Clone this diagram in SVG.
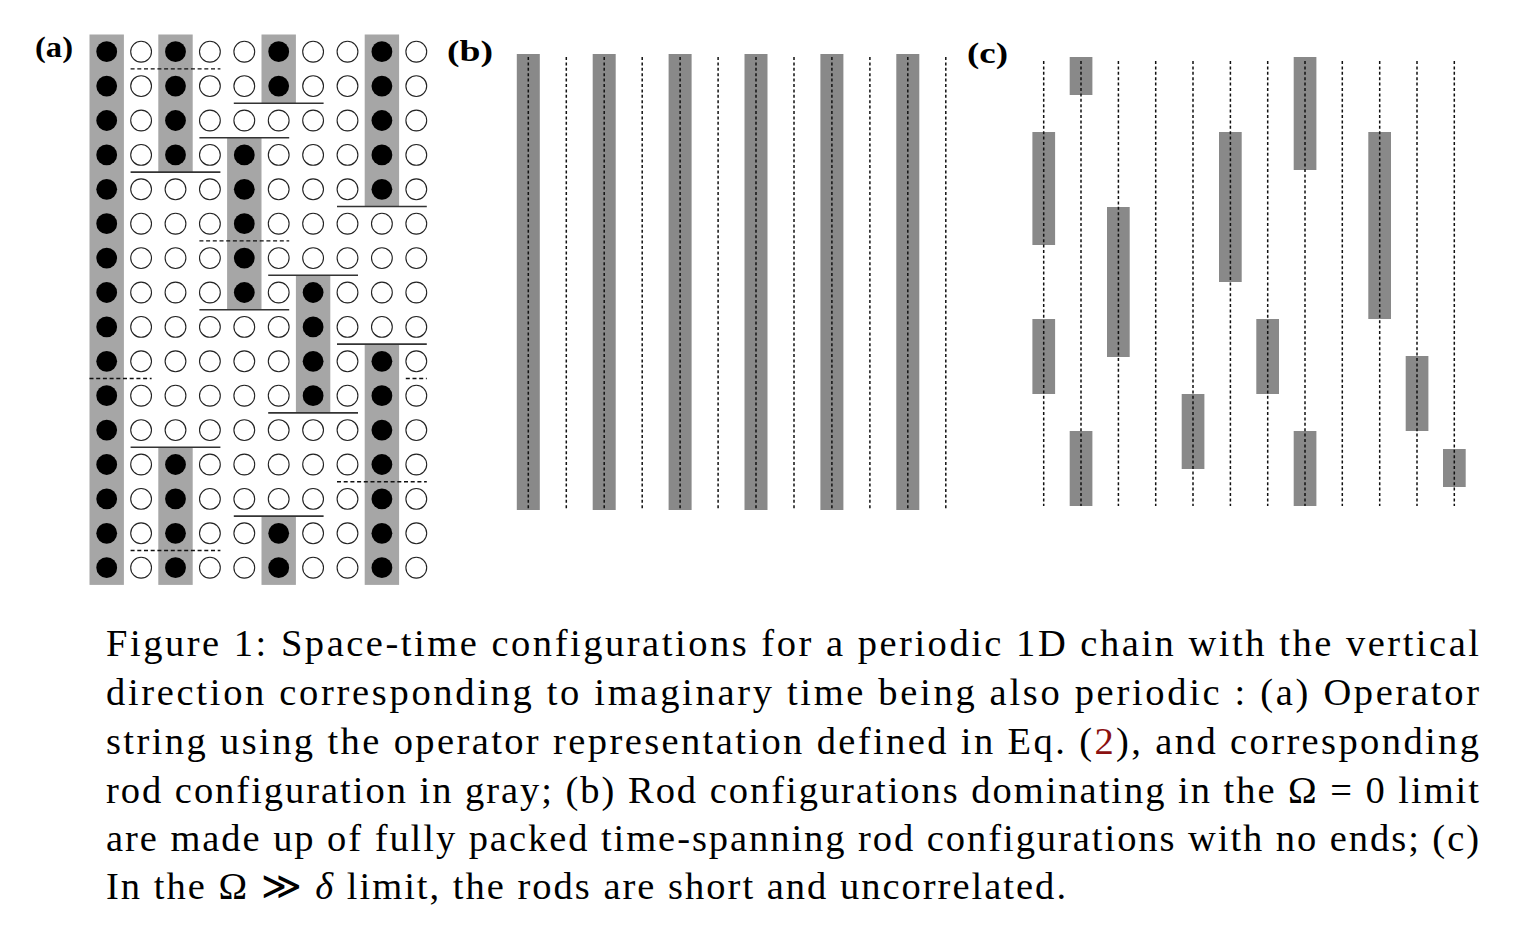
<svg xmlns="http://www.w3.org/2000/svg" width="1516" height="936" viewBox="0 0 1516 936">
<style>
.lbl{font-family:"Liberation Serif","DejaVu Serif",serif;font-weight:bold;font-size:29px;fill:#000}
.cap{font-family:"Liberation Serif","DejaVu Serif",serif;font-size:38.5px;fill:#000}
.rodA{fill:#a6a6a6}
.rodB{fill:#898989}
.o{fill:#fff;stroke:#222;stroke-width:1.1}
.f{fill:#000}
.op{stroke:#333;stroke-width:1.6;fill:none}
.opd{stroke:#111;stroke-width:1.4;fill:none;stroke-dasharray:4 2.7}
.dl{stroke:#111;stroke-width:1.5;fill:none;stroke-dasharray:3 2.4}
</style>
<rect width="1516" height="936" fill="#fff"/>

<!-- Panel (a) -->
<g id="panel-a">
<text class="lbl" x="35" y="57" textLength="38" lengthAdjust="spacingAndGlyphs">(a)</text>
<g id="rods-a">
<rect class="rodA" x="89.5" y="34.5" width="34.4" height="550.4"/>
<rect class="rodA" x="158.3" y="34.5" width="34.4" height="137.6"/>
<rect class="rodA" x="158.3" y="447.3" width="34.4" height="137.6"/>
<rect class="rodA" x="261.5" y="34.5" width="34.4" height="68.8"/>
<rect class="rodA" x="261.5" y="516.1" width="34.4" height="68.8"/>
<rect class="rodA" x="364.7" y="34.5" width="34.4" height="172"/>
<rect class="rodA" x="364.7" y="344.1" width="34.4" height="240.8"/>
<rect class="rodA" x="227.1" y="137.7" width="34.4" height="171.8"/>
<rect class="rodA" x="295.9" y="275.3" width="34.4" height="137.6"/>
</g>
<g id="sites">
<g transform="translate(0,51.7)"><circle class="f" cx="106.7" r="10.4"/><circle class="o" cx="141.1" r="10.4"/><circle class="f" cx="175.5" r="10.4"/><circle class="o" cx="209.9" r="10.4"/><circle class="o" cx="244.3" r="10.4"/><circle class="f" cx="278.7" r="10.4"/><circle class="o" cx="313.1" r="10.4"/><circle class="o" cx="347.5" r="10.4"/><circle class="f" cx="381.9" r="10.4"/><circle class="o" cx="416.3" r="10.4"/></g>
<g transform="translate(0,86.1)"><circle class="f" cx="106.7" r="10.4"/><circle class="o" cx="141.1" r="10.4"/><circle class="f" cx="175.5" r="10.4"/><circle class="o" cx="209.9" r="10.4"/><circle class="o" cx="244.3" r="10.4"/><circle class="f" cx="278.7" r="10.4"/><circle class="o" cx="313.1" r="10.4"/><circle class="o" cx="347.5" r="10.4"/><circle class="f" cx="381.9" r="10.4"/><circle class="o" cx="416.3" r="10.4"/></g>
<g transform="translate(0,120.5)"><circle class="f" cx="106.7" r="10.4"/><circle class="o" cx="141.1" r="10.4"/><circle class="f" cx="175.5" r="10.4"/><circle class="o" cx="209.9" r="10.4"/><circle class="o" cx="244.3" r="10.4"/><circle class="o" cx="278.7" r="10.4"/><circle class="o" cx="313.1" r="10.4"/><circle class="o" cx="347.5" r="10.4"/><circle class="f" cx="381.9" r="10.4"/><circle class="o" cx="416.3" r="10.4"/></g>
<g transform="translate(0,154.9)"><circle class="f" cx="106.7" r="10.4"/><circle class="o" cx="141.1" r="10.4"/><circle class="f" cx="175.5" r="10.4"/><circle class="o" cx="209.9" r="10.4"/><circle class="f" cx="244.3" r="10.4"/><circle class="o" cx="278.7" r="10.4"/><circle class="o" cx="313.1" r="10.4"/><circle class="o" cx="347.5" r="10.4"/><circle class="f" cx="381.9" r="10.4"/><circle class="o" cx="416.3" r="10.4"/></g>
<g transform="translate(0,189.3)"><circle class="f" cx="106.7" r="10.4"/><circle class="o" cx="141.1" r="10.4"/><circle class="o" cx="175.5" r="10.4"/><circle class="o" cx="209.9" r="10.4"/><circle class="f" cx="244.3" r="10.4"/><circle class="o" cx="278.7" r="10.4"/><circle class="o" cx="313.1" r="10.4"/><circle class="o" cx="347.5" r="10.4"/><circle class="f" cx="381.9" r="10.4"/><circle class="o" cx="416.3" r="10.4"/></g>
<g transform="translate(0,223.7)"><circle class="f" cx="106.7" r="10.4"/><circle class="o" cx="141.1" r="10.4"/><circle class="o" cx="175.5" r="10.4"/><circle class="o" cx="209.9" r="10.4"/><circle class="f" cx="244.3" r="10.4"/><circle class="o" cx="278.7" r="10.4"/><circle class="o" cx="313.1" r="10.4"/><circle class="o" cx="347.5" r="10.4"/><circle class="o" cx="381.9" r="10.4"/><circle class="o" cx="416.3" r="10.4"/></g>
<g transform="translate(0,258.1)"><circle class="f" cx="106.7" r="10.4"/><circle class="o" cx="141.1" r="10.4"/><circle class="o" cx="175.5" r="10.4"/><circle class="o" cx="209.9" r="10.4"/><circle class="f" cx="244.3" r="10.4"/><circle class="o" cx="278.7" r="10.4"/><circle class="o" cx="313.1" r="10.4"/><circle class="o" cx="347.5" r="10.4"/><circle class="o" cx="381.9" r="10.4"/><circle class="o" cx="416.3" r="10.4"/></g>
<g transform="translate(0,292.5)"><circle class="f" cx="106.7" r="10.4"/><circle class="o" cx="141.1" r="10.4"/><circle class="o" cx="175.5" r="10.4"/><circle class="o" cx="209.9" r="10.4"/><circle class="f" cx="244.3" r="10.4"/><circle class="o" cx="278.7" r="10.4"/><circle class="f" cx="313.1" r="10.4"/><circle class="o" cx="347.5" r="10.4"/><circle class="o" cx="381.9" r="10.4"/><circle class="o" cx="416.3" r="10.4"/></g>
<g transform="translate(0,326.9)"><circle class="f" cx="106.7" r="10.4"/><circle class="o" cx="141.1" r="10.4"/><circle class="o" cx="175.5" r="10.4"/><circle class="o" cx="209.9" r="10.4"/><circle class="o" cx="244.3" r="10.4"/><circle class="o" cx="278.7" r="10.4"/><circle class="f" cx="313.1" r="10.4"/><circle class="o" cx="347.5" r="10.4"/><circle class="o" cx="381.9" r="10.4"/><circle class="o" cx="416.3" r="10.4"/></g>
<g transform="translate(0,361.3)"><circle class="f" cx="106.7" r="10.4"/><circle class="o" cx="141.1" r="10.4"/><circle class="o" cx="175.5" r="10.4"/><circle class="o" cx="209.9" r="10.4"/><circle class="o" cx="244.3" r="10.4"/><circle class="o" cx="278.7" r="10.4"/><circle class="f" cx="313.1" r="10.4"/><circle class="o" cx="347.5" r="10.4"/><circle class="f" cx="381.9" r="10.4"/><circle class="o" cx="416.3" r="10.4"/></g>
<g transform="translate(0,395.7)"><circle class="f" cx="106.7" r="10.4"/><circle class="o" cx="141.1" r="10.4"/><circle class="o" cx="175.5" r="10.4"/><circle class="o" cx="209.9" r="10.4"/><circle class="o" cx="244.3" r="10.4"/><circle class="o" cx="278.7" r="10.4"/><circle class="f" cx="313.1" r="10.4"/><circle class="o" cx="347.5" r="10.4"/><circle class="f" cx="381.9" r="10.4"/><circle class="o" cx="416.3" r="10.4"/></g>
<g transform="translate(0,430.1)"><circle class="f" cx="106.7" r="10.4"/><circle class="o" cx="141.1" r="10.4"/><circle class="o" cx="175.5" r="10.4"/><circle class="o" cx="209.9" r="10.4"/><circle class="o" cx="244.3" r="10.4"/><circle class="o" cx="278.7" r="10.4"/><circle class="o" cx="313.1" r="10.4"/><circle class="o" cx="347.5" r="10.4"/><circle class="f" cx="381.9" r="10.4"/><circle class="o" cx="416.3" r="10.4"/></g>
<g transform="translate(0,464.5)"><circle class="f" cx="106.7" r="10.4"/><circle class="o" cx="141.1" r="10.4"/><circle class="f" cx="175.5" r="10.4"/><circle class="o" cx="209.9" r="10.4"/><circle class="o" cx="244.3" r="10.4"/><circle class="o" cx="278.7" r="10.4"/><circle class="o" cx="313.1" r="10.4"/><circle class="o" cx="347.5" r="10.4"/><circle class="f" cx="381.9" r="10.4"/><circle class="o" cx="416.3" r="10.4"/></g>
<g transform="translate(0,498.9)"><circle class="f" cx="106.7" r="10.4"/><circle class="o" cx="141.1" r="10.4"/><circle class="f" cx="175.5" r="10.4"/><circle class="o" cx="209.9" r="10.4"/><circle class="o" cx="244.3" r="10.4"/><circle class="o" cx="278.7" r="10.4"/><circle class="o" cx="313.1" r="10.4"/><circle class="o" cx="347.5" r="10.4"/><circle class="f" cx="381.9" r="10.4"/><circle class="o" cx="416.3" r="10.4"/></g>
<g transform="translate(0,533.3)"><circle class="f" cx="106.7" r="10.4"/><circle class="o" cx="141.1" r="10.4"/><circle class="f" cx="175.5" r="10.4"/><circle class="o" cx="209.9" r="10.4"/><circle class="o" cx="244.3" r="10.4"/><circle class="f" cx="278.7" r="10.4"/><circle class="o" cx="313.1" r="10.4"/><circle class="o" cx="347.5" r="10.4"/><circle class="f" cx="381.9" r="10.4"/><circle class="o" cx="416.3" r="10.4"/></g>
<g transform="translate(0,567.7)"><circle class="f" cx="106.7" r="10.4"/><circle class="o" cx="141.1" r="10.4"/><circle class="f" cx="175.5" r="10.4"/><circle class="o" cx="209.9" r="10.4"/><circle class="o" cx="244.3" r="10.4"/><circle class="f" cx="278.7" r="10.4"/><circle class="o" cx="313.1" r="10.4"/><circle class="o" cx="347.5" r="10.4"/><circle class="f" cx="381.9" r="10.4"/><circle class="o" cx="416.3" r="10.4"/></g>
</g>
<g id="operators">
<line class="opd" x1="130.6" y1="68.9" x2="220.4" y2="68.9"/>
<line class="op" x1="233.8" y1="103.3" x2="323.6" y2="103.3"/>
<line class="op" x1="199.4" y1="137.7" x2="289.2" y2="137.7"/>
<line class="op" x1="130.6" y1="172.1" x2="220.4" y2="172.1"/>
<line class="op" x1="337" y1="206.5" x2="426.8" y2="206.5"/>
<line class="opd" x1="199.4" y1="240.9" x2="289.2" y2="240.9"/>
<line class="op" x1="268.2" y1="275.3" x2="358" y2="275.3"/>
<line class="op" x1="199.4" y1="309.7" x2="289.2" y2="309.7"/>
<line class="op" x1="337" y1="344.1" x2="426.8" y2="344.1"/>
<line class="opd" x1="89.5" y1="378.5" x2="151.6" y2="378.5"/>
<line class="opd" x1="405.8" y1="378.5" x2="426.8" y2="378.5"/>
<line class="op" x1="268.2" y1="412.9" x2="358" y2="412.9"/>
<line class="op" x1="130.6" y1="447.3" x2="220.4" y2="447.3"/>
<line class="opd" x1="337" y1="481.7" x2="426.8" y2="481.7"/>
<line class="op" x1="233.8" y1="516.1" x2="323.6" y2="516.1"/>
<line class="opd" x1="130.6" y1="550.5" x2="220.4" y2="550.5"/>
</g>
</g>

<!-- Panel (b) -->
<g id="panel-b">
<text class="lbl" x="447" y="61" textLength="46" lengthAdjust="spacingAndGlyphs">(b)</text>
<g id="rods-b">
<rect class="rodB" x="516.8" y="54" width="23" height="456"/>
<rect class="rodB" x="592.7" y="54" width="23" height="456"/>
<rect class="rodB" x="668.6" y="54" width="23" height="456"/>
<rect class="rodB" x="744.5" y="54" width="23" height="456"/>
<rect class="rodB" x="820.4" y="54" width="23" height="456"/>
<rect class="rodB" x="896.3" y="54" width="23" height="456"/>
</g>
<g id="lines-b">
<line class="dl" x1="528.3" y1="57" x2="528.3" y2="510"/>
<line class="dl" x1="566.3" y1="57" x2="566.3" y2="510"/>
<line class="dl" x1="604.2" y1="57" x2="604.2" y2="510"/>
<line class="dl" x1="642.2" y1="57" x2="642.2" y2="510"/>
<line class="dl" x1="680.1" y1="57" x2="680.1" y2="510"/>
<line class="dl" x1="718.1" y1="57" x2="718.1" y2="510"/>
<line class="dl" x1="756" y1="57" x2="756" y2="510"/>
<line class="dl" x1="794" y1="57" x2="794" y2="510"/>
<line class="dl" x1="831.9" y1="57" x2="831.9" y2="510"/>
<line class="dl" x1="869.9" y1="57" x2="869.9" y2="510"/>
<line class="dl" x1="907.8" y1="57" x2="907.8" y2="510"/>
<line class="dl" x1="945.8" y1="57" x2="945.8" y2="510"/>
</g>
</g>

<!-- Panel (c) -->
<g id="panel-c">
<text class="lbl" x="967" y="63" textLength="41" lengthAdjust="spacingAndGlyphs">(c)</text>
<g id="rods-c">
<rect class="rodB" x="1032.4" y="132" width="22.7" height="113"/>
<rect class="rodB" x="1032.4" y="319" width="22.7" height="75"/>
<rect class="rodB" x="1069.7" y="57" width="22.7" height="38"/>
<rect class="rodB" x="1069.7" y="431" width="22.7" height="75"/>
<rect class="rodB" x="1107" y="207" width="22.7" height="150"/>
<rect class="rodB" x="1181.7" y="394" width="22.7" height="75"/>
<rect class="rodB" x="1219" y="132" width="22.7" height="150"/>
<rect class="rodB" x="1256.3" y="319" width="22.7" height="75"/>
<rect class="rodB" x="1293.7" y="57" width="22.7" height="113"/>
<rect class="rodB" x="1293.7" y="431" width="22.7" height="75"/>
<rect class="rodB" x="1368.3" y="132" width="22.7" height="187"/>
<rect class="rodB" x="1405.7" y="356" width="22.7" height="75"/>
<rect class="rodB" x="1443" y="449" width="22.7" height="38"/>
</g>
<g id="lines-c">
<line class="dl" x1="1043.7" y1="61" x2="1043.7" y2="506"/>
<line class="dl" x1="1081" y1="61" x2="1081" y2="506"/>
<line class="dl" x1="1118.4" y1="61" x2="1118.4" y2="506"/>
<line class="dl" x1="1155.7" y1="61" x2="1155.7" y2="506"/>
<line class="dl" x1="1193" y1="61" x2="1193" y2="506"/>
<line class="dl" x1="1230.4" y1="61" x2="1230.4" y2="506"/>
<line class="dl" x1="1267.7" y1="61" x2="1267.7" y2="506"/>
<line class="dl" x1="1305" y1="61" x2="1305" y2="506"/>
<line class="dl" x1="1342.3" y1="61" x2="1342.3" y2="506"/>
<line class="dl" x1="1379.7" y1="61" x2="1379.7" y2="506"/>
<line class="dl" x1="1417" y1="61" x2="1417" y2="506"/>
<line class="dl" x1="1454.3" y1="61" x2="1454.3" y2="506"/>
</g>
</g>

<!-- Caption -->
<g id="caption">
<text class="cap" x="106" y="656" textLength="1373" lengthAdjust="spacing">Figure 1:  Space-time configurations for a periodic 1D chain with the vertical</text>
<text class="cap" x="106" y="705" textLength="1373" lengthAdjust="spacing">direction corresponding to imaginary time being also periodic :  (a) Operator</text>
<text class="cap" x="106" y="754" textLength="1373" lengthAdjust="spacing">string using the operator representation defined in Eq. (<tspan fill="#8b1010">2</tspan>), and corresponding</text>
<text class="cap" x="106" y="803" textLength="1373" lengthAdjust="spacing">rod configuration in gray; (b) Rod configurations dominating in the Ω = 0 limit</text>
<text class="cap" x="106" y="851" textLength="1373" lengthAdjust="spacing">are made up of fully packed time-spanning rod configurations with no ends; (c)</text>
<text class="cap" x="106" y="899" textLength="960" lengthAdjust="spacing">In the Ω ≫ <tspan font-style="italic">δ</tspan> limit, the rods are short and uncorrelated.</text>
</g>
</svg>
